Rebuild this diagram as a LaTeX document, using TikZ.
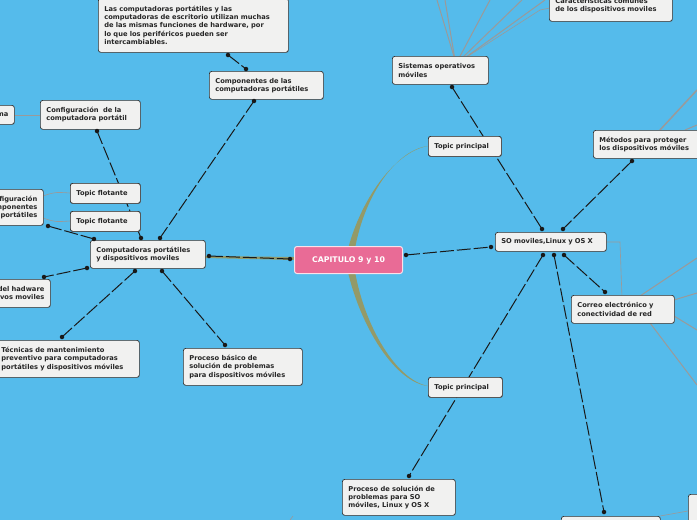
\documentclass[tikz,border=0pt]{standalone}
\usepackage{fontspec}
\setmainfont{DejaVu Sans}
\usetikzlibrary{shadows}
\definecolor{bg}{HTML}{55BBEB}
\definecolor{boxfill}{HTML}{F1F1F0}
\definecolor{pink}{HTML}{E96B96}
\definecolor{olive}{HTML}{939A68}
\definecolor{gline}{HTML}{9A9A9A}
\tikzset{
 box/.style={draw=black!80, line width=0.7pt, fill=boxfill, rounded corners=2.5pt, anchor=north west, align=left, inner sep=0pt, font=\fontsize{6.7}{8.3}\selectfont\bfseries, text=black!85, drop shadow={shadow xshift=0.6pt, shadow yshift=-0.6pt, opacity=0.35}},
 conn/.style={draw=black!90, line width=1pt, dash pattern=on 14pt off 3pt},
 dot/.style={circle, fill=black!90, inner sep=0pt, minimum size=4.5pt},
 gl/.style={draw=gline, line width=1pt},
}
\newcommand{\bx}[6]{\pgfmathsetlengthmacro{\tw}{#3-12}\node[box, minimum width=#3pt, minimum height=#4pt, text width=\tw] (#5) at (#1pt,-#2pt) {#6};}
\begin{document}
\begin{tikzpicture}[x=1pt,y=-1pt]
\fill[bg] (0,0) rectangle (697,520);
\useasboundingbox (0,0) rectangle (697,520);
\clip (0,0) rectangle (697,520);
% gray lines
\draw[gl] (455,60) -- (437,0); \draw[gl] (455,60) -- (445,0); \draw[gl] (458,60) -- (490,0);
\draw[gl] (460,60) -- (522,0); \draw[gl] (462,60) -- (545,0);
\draw[gl,line width=0.6pt] (462,60) -- (540,10) -- (550,8);
\draw[gl,line width=1.5pt] (660,130) -- (697,90); \draw[gl] (685,130) -- (697,125);
\draw[gl,line width=0.6pt] (606,242) -- (620,242) -- (622,298);
\draw[gl] (640,296) -- (697,258); \draw[gl] (674,300) -- (697,293); \draw[gl] (674,316) -- (697,330);
\draw[gl] (650,323) -- (697,385);
\draw[gl,line width=0.6pt] (14,115) -- (40,115);
\draw[gl,line width=0.6pt] (43,196) .. controls (55,192) .. (70,193);
\draw[gl,line width=0.6pt] (43,218) .. controls (55,222) .. (70,221);
\draw[gl,line width=0.6pt] (293,516) -- (290,520);
\draw[gl,line width=0.6pt] (660,516) -- (688,511);
% olive branches
\fill[olive] (353,262) .. controls (360,200) and (395,150) .. (428,146) .. controls (393,152) and (356,205) .. (345,262) -- cycle;
\fill[olive] (353,258) .. controls (360,320) and (395,380) .. (428,386) .. controls (393,382) and (356,320) .. (345,258) -- cycle;
\fill[olive] (205,256) -- (294,257) -- (294,260) -- (205,258) -- cycle;
% boxes
\bx{98}{-2}{190}{54}{top}{Las computadoras portátiles y las\\computadoras de escritorio utilizan muchas\\de las mismas funciones de hardware, por\\lo que los periféricos pueden ser\\intercambiables.}
\bx{209}{71}{114}{28}{comp}{Componentes de las\\computadoras portátiles}
\bx{40}{100}{100}{29}{conf}{Configuración\ \ de la\\computadora portátil}
\bx{-80}{105}{94}{19}{ma}{\hfill ma}
\bx{70}{183}{70}{20}{tf1}{Topic flotante}
\bx{70}{211}{70}{20}{tf2}{Topic flotante}
\bx{-60}{189}{103}{36}{confc}{\hfill Configuración\\\hfill de los componentes\\\hfill de las portátiles}
\bx{90}{240}{115}{28}{cpd}{Computadoras portátiles\\y dispositivos moviles}
\bx{-80}{279}{130}{28}{hw}{\hfill Reparación del hadware\\\hfill de dispositivos moviles}
\bx{-5}{340}{144}{37}{tec}{Técnicas de mantenimiento\\preventivo para computadoras\\portátiles y dispositivos móviles}
\bx{183}{348}{119}{37}{pb}{Proceso básico de\\solución de problemas\\para dispositivos móviles}
\node[draw=white!80!pink, line width=1pt, fill=pink, rounded corners=2.5pt, minimum width=108pt, minimum height=27pt, inner sep=0pt, text=white, font=\fontsize{7.8}{8}\selectfont\bfseries, anchor=north west] (cap) at (294pt,-246pt) {CAPITULO 9 y 10};
\bx{428}{136}{73}{20}{tp1}{Topic principal}
\bx{392}{56}{96}{28}{sis}{Sistemas operativos\\móviles}
\bx{549}{-14}{123}{35}{car}{\\Características comunes\\de los dispositivos moviles}
\bx{593}{130}{112}{28}{met}{Métodos para proteger\\los dispositivos móviles}
\bx{495}{232}{111}{19}{so}{SO moviles,Linux y OS X}
\bx{571}{295}{103}{28}{cor}{Correo electrónico y\\conectividad de red}
\bx{428}{377}{74}{20}{tp2}{Topic principal}
\bx{342}{479}{113}{36}{psol}{Proceso de solución de\\problemas para SO\\móviles, Linux y OS X}
\bx{561}{516}{99}{20}{bot}{}
\bx{688}{494}{30}{40}{bot2}{}
% coordinates
\foreach \n/\x/\y in {a1/97/131,a2/141/238,b1/254/101,b2/160/238,c1/228/55,c2/246/69,d1/48/226,d2/94/239,e1/87/268,e2/44/277,f1/135/271,f2/62/337,g1/162/271,g2/225/345,h1/209/256,h2/290/259,i1/406/255,i2/491/247,j1/452/87,j2/542/229,k1/632/161,k2/563/229,l1/543/255,l2/409/476,m1/554/255,m2/604/512,n1/564/255,n2/605/292}
 \coordinate (\n) at (\x,\y);
\foreach \p/\q in {a1/a2,b1/b2,c1/c2,d1/d2,e1/e2,f1/f2,g1/g2,h1/h2,i1/i2,j1/j2,k1/k2,l1/l2,m1/m2,n1/n2}{
 \draw[conn] (\p) -- (\q);
 \node[dot] at (\p) {}; \node[dot] at (\q) {};}
% redraw boxes crossed by lines
\bx{70}{183}{70}{20}{tf1b}{Topic flotante}
\bx{70}{211}{70}{20}{tf2b}{Topic flotante}
\bx{428}{136}{73}{20}{tp1b}{Topic principal}
\bx{428}{377}{74}{20}{tp2b}{Topic principal}
\end{tikzpicture}
\end{document}
